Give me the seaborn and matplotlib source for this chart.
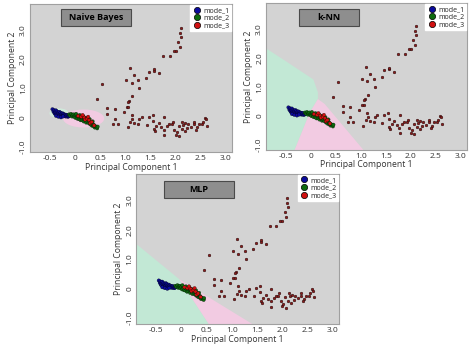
import numpy as np
import pandas as pd
import matplotlib
matplotlib.use("Agg")
import matplotlib.pyplot as plt
from matplotlib.patches import Ellipse, Polygon, FancyBboxPatch
from matplotlib.lines import Line2D
import seaborn as sns

# mode_1 cluster
blue_x = [-0.45, -0.43, -0.42, -0.41, -0.40, -0.40, -0.39, -0.38, -0.37, -0.37, -0.36, -0.35, -0.35, -0.34,
          -0.33, -0.32, -0.31, -0.30, -0.30, -0.29, -0.28, -0.27, -0.26, -0.25, -0.24, -0.23, -0.22, -0.21,
          -0.20, -0.19, -0.18, -0.17, -0.16, -0.15, -0.14, -0.13, -0.12, -0.38, -0.33, -0.28, -0.24]
blue_y = [0.28, 0.20, 0.25, 0.15, 0.22, 0.12, 0.18, 0.24, 0.10, 0.16, 0.20, 0.12, 0.06, 0.17,
          0.14, 0.10, 0.19, 0.05, 0.13, 0.16, 0.09, 0.12, 0.06, 0.14, 0.09, 0.11, 0.05, 0.10,
          0.07, 0.03, 0.09, 0.05, 0.08, 0.02, 0.06, 0.03, 0.05, 0.05, 0.02, 0.00, 0.03]
# mode_2 cluster
green_x = [-0.12, -0.10, -0.08, -0.06, -0.05, -0.03, -0.02, 0.00, 0.01, 0.03, 0.04, 0.05, 0.07, 0.08,
           0.10, 0.11, 0.12, 0.14, 0.15, 0.17, 0.18, 0.19, 0.21, 0.22, 0.24, 0.25, 0.27, 0.28, 0.30,
           0.31, 0.33, 0.34, 0.36, 0.37, 0.39, 0.40, 0.42, 0.44, 0.45, 0.02, 0.09, 0.16, 0.23, 0.29, 0.35]
green_y = [0.10, 0.06, 0.12, 0.03, 0.08, 0.10, 0.02, 0.06, -0.02, 0.07, 0.01, -0.05, 0.04, -0.06,
           0.00, -0.10, 0.03, -0.08, -0.02, -0.14, -0.06, -0.01, -0.12, -0.18, -0.08, -0.15, -0.20, -0.12, -0.24,
           -0.18, -0.28, -0.22, -0.30, -0.25, -0.35, -0.30, -0.33, -0.38, -0.32, 0.12, 0.08, 0.04, -0.02, -0.06, -0.14]
# mode_3 points inside the cluster
red_x = [0.06, 0.12, 0.18, 0.20, 0.24, 0.28, 0.30, 0.33, 0.38, 0.15, 0.26]
red_y = [0.05, 0.02, 0.00, -0.08, -0.05, -0.10, -0.20, -0.16, -0.28, 0.08, 0.02]
# mode_3 scattered points
out_x = [2.10, 2.09, 2.11, 2.05, 2.08, 1.96, 2.00, 1.75, 1.88, 1.57, 1.47, 1.67, 1.42, 1.57, 1.10, 1.18,
         1.02, 1.13, 1.26, 1.28, 1.14, 1.08, 1.06, 1.03, 1.06, 0.97, 0.54, 0.44, 0.64, 0.64, 0.79, 0.79,
         0.75, 0.85, 1.05, 1.13, 1.14, 1.18, 1.10, 1.26, 1.28, 1.33, 1.43, 1.47, 1.55, 1.56, 1.57, 1.59,
         1.62, 1.67, 1.78, 1.72, 1.77, 1.78, 1.83, 1.87, 1.92, 1.97, 2.00, 2.02, 2.06, 2.07, 2.12, 2.15,
         2.18, 2.23, 2.25, 2.31, 2.37, 2.42, 2.47, 2.52, 2.55, 2.59, 2.61, 2.63, 2.13, 1.94, 2.37, 2.19, 2.41]
out_y = [3.09, 2.92, 2.78, 2.61, 2.44, 2.30, 2.30, 2.13, 2.13, 1.60, 1.57, 1.52, 1.35, 1.65, 1.69, 1.45,
         1.28, 1.18, 1.28, 1.00, 0.72, 0.56, 0.52, 0.36, 0.36, 0.19, 1.16, 0.64, 0.33, 0.13, 0.30, -0.06,
         -0.24, -0.24, -0.35, 0.08, -0.06, -0.20, -0.17, -0.24, -0.06, 0.00, -0.26, 0.02, 0.08, -0.12, -0.40, -0.48,
         -0.31, -0.20, 0.00, -0.34, -0.43, -0.62, -0.31, -0.24, -0.24, -0.43, -0.60, -0.51, -0.29, -0.65, -0.40, -0.26,
         -0.48, -0.37, -0.24, -0.33, -0.24, -0.35, -0.24, -0.24, -0.15, -0.01, -0.06, -0.29, -0.15, -0.15, -0.15, -0.20, -0.43]

modes = ["mode_1", "mode_2", "mode_3"]
mode_colors = ["#0b0b9c", "#0d6b0d", "#d01010"]
out_color = "#8b1c1c"

titles = ["Naive Bayes", "k-NN", "MLP"]

# decision regions (data coordinates)
nb_pink = dict(center=(0.17, -0.04), width=0.82, height=0.62)
nb_green = dict(center=(-0.32, 0.14), width=0.38, height=0.34)
knn_green_x = [-0.95, -0.55, 0.05, 0.14, 0.14, -0.02, -0.35, -0.95]
knn_green_y = [2.39, 1.94, 1.25, 0.80, 0.57, 0.11, -1.30, -1.30]
knn_pink_x = [0.14, 0.275, 1.10, -0.35, -0.02]
knn_pink_y = [0.57, 0.40, -1.30, -1.30, 0.11]
mlp_green_x = [-0.95, -0.815, -0.04, 0.58, -0.95]
mlp_green_y = [1.60, 1.41, 0.32, -1.30, -1.30]
mlp_pink_x = [-0.04, 1.50, 0.58]
mlp_pink_y = [0.32, -1.30, -1.30]

bg_gray = "#d3d3d3"
mint = "#c2e8d5"
pink = "#f2cbe2"

df = pd.concat([
    pd.DataFrame({"x": blue_x, "y": blue_y, "mode": "mode_1"}),
    pd.DataFrame({"x": green_x, "y": green_y, "mode": "mode_2"}),
    pd.DataFrame({"x": red_x, "y": red_y, "mode": "mode_3"}),
])
df_out = pd.DataFrame({"x": out_x, "y": out_y})

sns.set_style("white")
plt.rcParams["font.family"] = ["Open Sans", "DejaVu Sans"]

fig = plt.figure(figsize=(4.74, 3.53), dpi=100)
rects = [
    [0.063, 0.569, 0.426, 0.419],
    [0.561, 0.575, 0.424, 0.416],
    [0.287, 0.082, 0.428, 0.425],
]
boxes = [
    (0.153, 0.851, 0.347, 0.115),
    (0.166, 0.844, 0.295, 0.113),
    (0.139, 0.842, 0.345, 0.111),
]


def fmt(v, pos):
    return "0" if abs(v) < 1e-9 else "%.1f" % v


for i, rect in enumerate(rects):
    ax = fig.add_axes(rect)
    ax.set_facecolor(bg_gray)
    if i == 0:
        ax.add_patch(Ellipse(nb_green["center"], nb_green["width"], nb_green["height"],
                             facecolor="#d0eadb", edgecolor="none", zorder=0.5))
        ax.add_patch(Ellipse(nb_pink["center"], nb_pink["width"], nb_pink["height"],
                             facecolor=pink, edgecolor="none", zorder=0.6))
    elif i == 1:
        ax.add_patch(Polygon(np.column_stack([knn_green_x, knn_green_y]), facecolor=mint, edgecolor="none", zorder=0.5))
        ax.add_patch(Polygon(np.column_stack([knn_pink_x, knn_pink_y]), facecolor=pink, edgecolor="none", zorder=0.5))
    else:
        ax.add_patch(Polygon(np.column_stack([mlp_green_x, mlp_green_y]), facecolor=mint, edgecolor="none", zorder=0.5))
        ax.add_patch(Polygon(np.column_stack([mlp_pink_x, mlp_pink_y]), facecolor=pink, edgecolor="none", zorder=0.5))

    sns.scatterplot(data=df_out, x="x", y="y", color=out_color, s=4, edgecolor="black",
                    linewidth=0.25, ax=ax, legend=False, zorder=3)
    sns.scatterplot(data=df, x="x", y="y", hue="mode", hue_order=modes, palette=mode_colors,
                    s=6, edgecolor="black", linewidth=0.2, ax=ax, legend=False, zorder=3)

    ax.set_xlim(-0.9, 3.12)
    ax.set_ylim(-1.2, 3.9)
    ax.set_xticks([-0.5, 0, 0.5, 1.0, 1.5, 2.0, 2.5, 3.0])
    ax.set_yticks([-1.0, 0, 1.0, 2.0, 3.0])
    ax.xaxis.set_major_formatter(plt.FuncFormatter(fmt))
    ax.yaxis.set_major_formatter(plt.FuncFormatter(fmt))
    ax.tick_params(axis="both", labelsize=6, length=0, pad=2, colors="#333333")
    for lab in ax.get_yticklabels():
        lab.set_rotation(90)
        lab.set_va("center")
    ax.set_xlabel("Principal Component 1", fontsize=6.2, labelpad=0.5, color="#333333")
    ax.set_ylabel("Principal Component 2", fontsize=6.2, labelpad=2, color="#333333")
    for sp in ax.spines.values():
        sp.set_color("#a0a0a0")
        sp.set_linewidth(0.8)

    bx, by, bw, bh = boxes[i]
    ax.add_patch(FancyBboxPatch((bx, by), bw, bh, boxstyle="square,pad=0", transform=ax.transAxes,
                                facecolor="#8e8e8e", edgecolor="#4a4a4a", linewidth=0.8, zorder=5))
    ax.text(bx + bw / 2, by + bh / 2, titles[i], transform=ax.transAxes, ha="center", va="center",
            fontsize=6.5, fontweight="bold", color="black", zorder=6)

    handles = [Line2D([], [], marker="o", linestyle="none", markersize=4.5, markerfacecolor=c,
                      markeredgecolor="black", markeredgewidth=0.5) for c in mode_colors]
    leg = ax.legend(handles, modes, loc="upper right", fontsize=5, frameon=True, fancybox=False,
                    borderaxespad=0.1, handletextpad=0.3, labelspacing=0.1, borderpad=0.3,
                    handlelength=1.2)
    leg.get_frame().set_facecolor("white")
    leg.get_frame().set_edgecolor("white")
    leg.get_frame().set_alpha(1)

fig.savefig("out.png", dpi=100)
